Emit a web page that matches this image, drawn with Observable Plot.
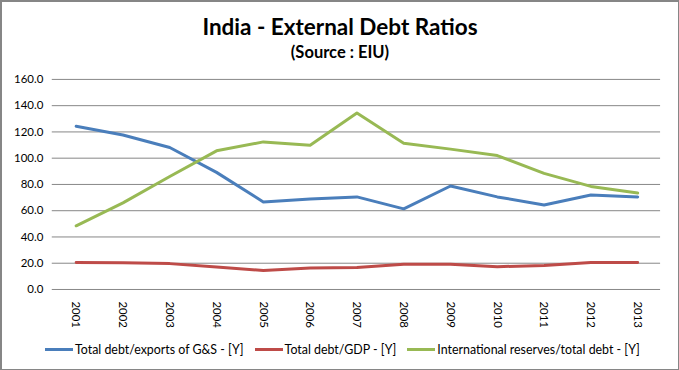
<!DOCTYPE html>
<html>
<head>
<meta charset="utf-8">
<script src="https://cdn.jsdelivr.net/npm/d3@7"></script>
<script src="https://cdn.jsdelivr.net/npm/@observablehq/plot@0.6"></script>
<style>
  html, body { margin: 0; padding: 0; background: #fff; }
  #chart {
    position: relative; width: 679px; height: 370px; box-sizing: border-box;
    border: 2px solid #868686; border-right-width: 1px; border-bottom-width: 1px;
    font-family: Lato, "Open Sans", sans-serif; overflow: hidden;
  }
  #title { position: absolute; top: 11px; left: 0; width: 100%; text-align: center;
    font-size: 22.5px; font-weight: bold; color: #000; }
  #subtitle { position: absolute; top: 40px; left: 0; width: 100%; text-align: center;
    font-size: 16.5px; font-weight: bold; color: #000; }
  #plot { position: absolute; top: 57px; left: -2px; }
  #legend { position: absolute; top: 340px; left: 43px; display: flex; gap: 11px;
    font-size: 12.4px; color: #000; white-space: nowrap; }
  #legend .item { display: flex; align-items: center; gap: 2px; }
  #legend .sw { display: inline-block; width: 28px; height: 3px; }
</style>
</head>
<body>
<div id="chart">
  <div id="title">India - External Debt Ratios</div>
  <div id="subtitle">(Source : EIU)</div>
  <div id="plot"></div>
  <div id="legend"></div>
</div>
<script>
const years = ["2001","2002","2003","2004","2005","2006","2007","2008","2009","2010","2011","2012","2013"];
const seriesNames = ["Total debt/exports of G&S - [Y]", "Total debt/GDP - [Y]", "International reserves/total debt - [Y]"];
const seriesColors = ["#4A7EBB", "#BE4B48", "#98B954"];
const debtToExports = [124.3, 117.7, 108.1, 89.2, 66.7, 69.0, 70.5, 61.4, 78.8, 70.5, 64.4, 72.0, 70.5];
const debtToGDP = [20.5, 20.3, 19.7, 17.1, 14.4, 16.4, 16.7, 19.2, 19.2, 17.4, 18.2, 20.5, 20.5];
const reservesToDebt = [48.5, 66.0, 86.1, 105.6, 112.4, 109.9, 134.4, 111.4, 106.9, 102.0, 88.4, 78.5, 73.5];
const yTicks = [0, 20, 40, 60, 80, 100, 120, 140, 160];

const allSeries = [debtToExports, debtToGDP, reservesToDebt];
const data = [];
allSeries.forEach((vals, si) => vals.forEach((v, i) => data.push({year: years[i], value: v, series: seriesNames[si]})));

const plot = Plot.plot({
  width: 681,
  height: 280,
  marginTop: 20,
  marginBottom: 49,
  marginLeft: 52,
  marginRight: 18,
  style: {fontFamily: "Lato, 'Open Sans', sans-serif", fontSize: "11.5px", color: "#000", background: "transparent"},
  x: {type: "point", domain: years, padding: 0.5, label: null},
  y: {domain: [0, 160], ticks: yTicks, label: null},
  color: {domain: seriesNames, range: seriesColors},
  marks: [
    Plot.gridY(yTicks, {stroke: "#868686", strokeOpacity: 1, strokeWidth: 1}),
    Plot.axisY(yTicks, {tickSize: 0, tickPadding: 9, tickFormat: d => d.toFixed(1), label: null}),
    Plot.axisX({tickSize: 0, tickPadding: 12, tickRotate: 90, label: null}),
    Plot.line(data, {x: "year", y: "value", z: "series", stroke: "series", strokeWidth: 3, curve: "linear"})
  ]
});
document.getElementById("plot").appendChild(plot);

const legend = document.getElementById("legend");
seriesNames.forEach((name, i) => {
  const item = document.createElement("span");
  item.className = "item";
  const sw = document.createElement("span");
  sw.className = "sw";
  sw.style.background = seriesColors[i];
  const t = document.createElement("span");
  t.textContent = name;
  item.appendChild(sw);
  item.appendChild(t);
  legend.appendChild(item);
});
</script>
</body>
</html>
